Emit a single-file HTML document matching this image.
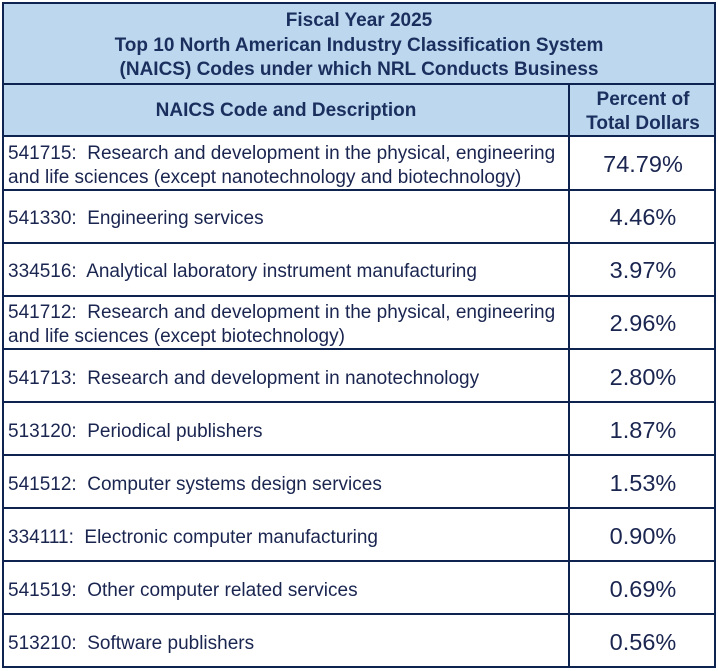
<!DOCTYPE html>
<html><head><meta charset="utf-8"><style>
body{margin:0;width:718px;height:671px;background:#fff;font-family:"Liberation Sans",Arial,sans-serif;position:relative;overflow:hidden}
.box{position:absolute;box-sizing:border-box}
.hd{background:#bdd7ee;color:#1b2f5e;font-weight:bold;text-align:center}
.ln{position:absolute;background:#0f2350}
.c1{position:absolute;left:8px;color:#1a2550;font-size:19px;line-height:24px;white-space:nowrap}
.c2{position:absolute;left:571px;width:144px;text-align:center;color:#1a2550;font-size:23.5px}
</style></head><body>
<div class="box hd" style="left:3px;top:3px;width:712px;height:81px;font-size:19px;line-height:24.5px;padding-top:6px">Fiscal Year 2025<br>Top 10 North American Industry Classification System<br>(NAICS) Codes under which NRL Conducts Business</div>
<div class="box hd" style="left:3px;top:84px;width:712px;height:52px"></div>
<div class="box hd" style="left:3px;top:100px;width:566px;font-size:19px;background:none">NAICS Code and Description</div>
<div class="box hd" style="left:571px;top:88px;width:144px;font-size:19px;line-height:24px;background:none">Percent of<br>Total Dollars</div>

<div class="ln" style="left:2px;top:2px;width:714px;height:2px"></div>
<div class="ln" style="left:2px;top:2px;width:2px;height:666px"></div>
<div class="ln" style="left:714px;top:2px;width:2px;height:666px"></div>
<div class="ln" style="left:2px;top:83px;width:714px;height:2px"></div>
<div class="ln" style="left:568px;top:83px;width:2px;height:585px"></div>
<div class="ln" style="left:2px;top:135px;width:714px;height:2px"></div>
<div class="ln" style="left:2px;top:189px;width:714px;height:2px"></div>
<div class="ln" style="left:2px;top:242px;width:714px;height:2px"></div>
<div class="ln" style="left:2px;top:295px;width:714px;height:2px"></div>
<div class="ln" style="left:2px;top:348px;width:714px;height:2px"></div>
<div class="ln" style="left:2px;top:401px;width:714px;height:2px"></div>
<div class="ln" style="left:2px;top:454px;width:714px;height:2px"></div>
<div class="ln" style="left:2px;top:507px;width:714px;height:2px"></div>
<div class="ln" style="left:2px;top:560px;width:714px;height:2px"></div>
<div class="ln" style="left:2px;top:613px;width:714px;height:2px"></div>
<div class="ln" style="left:2px;top:666px;width:714px;height:2px"></div>

<div class="c1" style="top:142px">541715:&nbsp; Research and development in the physical, engineering<br>and life sciences (except nanotechnology and biotechnology)</div>
<div class="c2" style="top:151px">74.79%</div>
<div class="c1" style="top:207px">541330:&nbsp; Engineering services</div>
<div class="c2" style="top:204px">4.46%</div>
<div class="c1" style="top:260px">334516:&nbsp; Analytical laboratory instrument manufacturing</div>
<div class="c2" style="top:257px">3.97%</div>
<div class="c1" style="top:301px">541712:&nbsp; Research and development in the physical, engineering<br>and life sciences (except biotechnology)</div>
<div class="c2" style="top:310px">2.96%</div>
<div class="c1" style="top:367px">541713:&nbsp; Research and development in nanotechnology</div>
<div class="c2" style="top:364px">2.80%</div>
<div class="c1" style="top:420px">513120:&nbsp; Periodical publishers</div>
<div class="c2" style="top:417px">1.87%</div>
<div class="c1" style="top:473px">541512:&nbsp; Computer systems design services</div>
<div class="c2" style="top:470px">1.53%</div>
<div class="c1" style="top:526px">334111:&nbsp; Electronic computer manufacturing</div>
<div class="c2" style="top:523px">0.90%</div>
<div class="c1" style="top:579px">541519:&nbsp; Other computer related services</div>
<div class="c2" style="top:576px">0.69%</div>
<div class="c1" style="top:632px">513210:&nbsp; Software publishers</div>
<div class="c2" style="top:629px">0.56%</div>
</body></html>
